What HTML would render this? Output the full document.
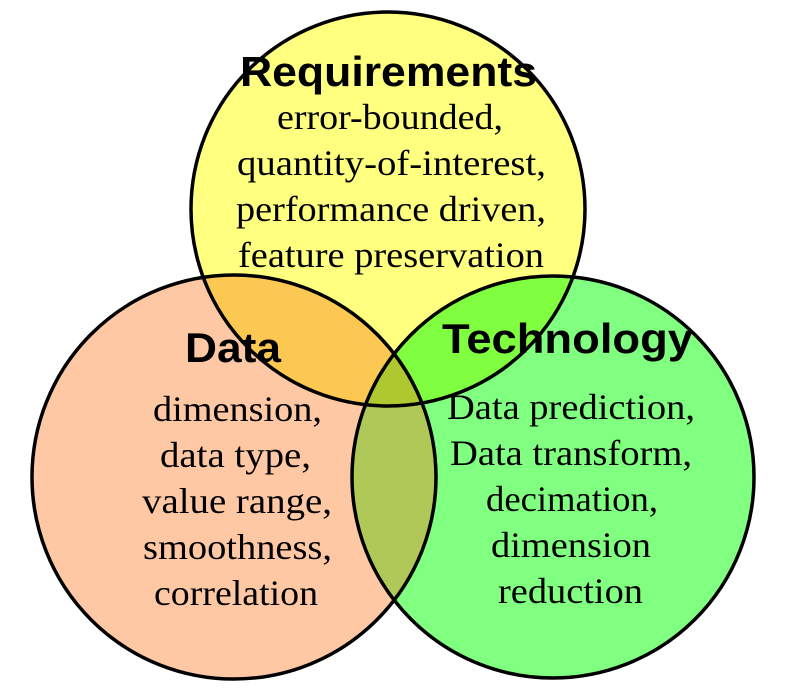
<!DOCTYPE html>
<html><head><meta charset="utf-8"><style>html,body{margin:0;padding:0;background:#fff}svg{display:block}</style></head>
<body>
<svg width="791" height="688" viewBox="0 0 791 688" xmlns="http://www.w3.org/2000/svg">
<defs>
<clipPath id="cy"><circle cx="388" cy="209" r="197"/></clipPath>
<clipPath id="co"><circle cx="234" cy="477" r="202"/></clipPath>
<clipPath id="cg"><circle cx="553" cy="477" r="201"/></clipPath>
</defs>
<circle cx="234" cy="477" r="202" fill="#ffc8a4"/>
<circle cx="553" cy="477" r="201" fill="#80ff80"/>
<circle cx="388" cy="209" r="197" fill="#ffff80"/>
<g clip-path="url(#cy)"><circle cx="234" cy="477" r="202" fill="#fcc852"/><circle cx="553" cy="477" r="201" fill="#80ff40"/></g>
<g clip-path="url(#co)"><circle cx="553" cy="477" r="201" fill="#b0c858"/></g>
<g clip-path="url(#cy)"><g clip-path="url(#co)"><circle cx="553" cy="477" r="201" fill="#b0c830"/></g></g>
<g fill="none" stroke-width="3.5">
<circle cx="234" cy="477" r="202" stroke="#000"/>
<circle cx="553" cy="477" r="201" stroke="#000"/>
<circle cx="388" cy="209" r="197" stroke="#000"/>
</g>
<g font-family="'Liberation Sans',sans-serif" font-weight="bold" font-size="42" fill="#000">
<text x="240" y="86" textLength="297" lengthAdjust="spacingAndGlyphs">Requirements</text>
<text x="185" y="362" textLength="96" lengthAdjust="spacingAndGlyphs">Data</text>
<text x="442" y="353" textLength="251" lengthAdjust="spacingAndGlyphs">Technology</text>
</g>
<g font-family="'Liberation Serif',serif" font-size="36" fill="#000">
<text x="277" y="129" textLength="226" lengthAdjust="spacingAndGlyphs">error-bounded,</text>
<text x="237" y="175" textLength="309" lengthAdjust="spacingAndGlyphs">quantity-of-interest,</text>
<text x="236" y="221" textLength="310" lengthAdjust="spacingAndGlyphs">performance driven,</text>
<text x="238" y="267" textLength="306" lengthAdjust="spacingAndGlyphs">feature preservation</text>
<text x="153" y="421" textLength="169" lengthAdjust="spacingAndGlyphs">dimension,</text>
<text x="160" y="467" textLength="151" lengthAdjust="spacingAndGlyphs">data type,</text>
<text x="142" y="513" textLength="190" lengthAdjust="spacingAndGlyphs">value range,</text>
<text x="143" y="559" textLength="189" lengthAdjust="spacingAndGlyphs">smoothness,</text>
<text x="154" y="605" textLength="164" lengthAdjust="spacingAndGlyphs">correlation</text>
<text x="447" y="419" textLength="248" lengthAdjust="spacingAndGlyphs">Data prediction,</text>
<text x="450" y="465" textLength="242" lengthAdjust="spacingAndGlyphs">Data transform,</text>
<text x="486" y="511" textLength="172" lengthAdjust="spacingAndGlyphs">decimation,</text>
<text x="491" y="557" textLength="160" lengthAdjust="spacingAndGlyphs">dimension</text>
<text x="498" y="603" textLength="145" lengthAdjust="spacingAndGlyphs">reduction</text>
</g>
</svg>
</body></html>
